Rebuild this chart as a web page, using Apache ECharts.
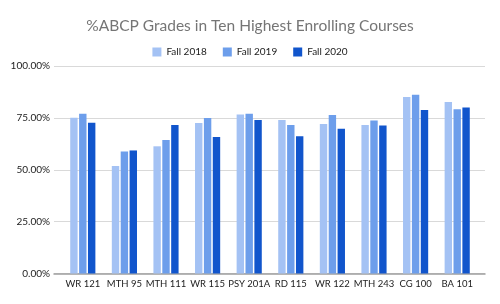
<!DOCTYPE html>
<html>
<head>
<meta charset="utf-8">
<script src="https://cdn.jsdelivr.net/npm/echarts@6/dist/echarts.min.js"></script>
<style>
  html, body { margin: 0; padding: 0; background: #fff; }
  #main { width: 500px; height: 304px; }
</style>
</head>
<body>
<div id="main"></div>
<script>
var myChart = echarts.init(document.getElementById('main'));

// course names and the three terms
var courses = ['WR 121', 'MTH 95', 'MTH 111', 'WR 115', 'PSY 201A', 'RD 115', 'WR 122', 'MTH 243', 'CG 100', 'BA 101'];
var terms = ['Fall 2018', 'Fall 2019', 'Fall 2020'];

// % ABCP grades
var fall2018 = [75.1, 51.8, 61.3, 72.5, 76.6, 74.0, 72.1, 71.6, 85.1, 82.7];
var fall2019 = [77.0, 58.8, 64.3, 75.0, 77.0, 71.6, 76.4, 73.7, 86.2, 79.1];
var fall2020 = [72.7, 59.3, 71.6, 65.8, 74.0, 66.1, 69.7, 71.3, 78.8, 80.0];

var colors = ['#a4c2f4', '#6d9eeb', '#1155cc'];
var values = [fall2018, fall2019, fall2020];

var series = terms.map(function (t, i) {
    return {
        name: t,
        type: 'bar',
        xAxisIndex: 1,
        yAxisIndex: 1,
        data: values[i],
        barWidth: 7.4,
        barGap: '20%',
        itemStyle: { color: colors[i] }
    };
});

var font = 'Lato';

option = {
    animation: false,
    textStyle: { fontFamily: font },
    title: {
        text: '%ABCP Grades in Ten Highest Enrolling Courses',
        left: 'center',
        top: 13,
        textStyle: { color: '#757575', fontSize: 15.5, fontWeight: 'normal', fontFamily: font }
    },
    legend: {
        data: terms,
        top: 42,
        left: 'center',
        itemWidth: 9,
        itemHeight: 9,
        itemGap: 16,
        icon: 'rect',
        textStyle: { color: '#222', fontSize: 10, fontFamily: font }
    },
    // grid 0 carries the gridlines, grid 1 the bars (Sheets pads the categories)
    grid: [
        { left: 54, right: 15, top: 66, bottom: 30.5 },
        { left: 62, right: 22, top: 66, bottom: 30.5 }
    ],
    xAxis: [{
        gridIndex: 0,
        type: 'value',
        min: 0,
        max: 1,
        axisLabel: { show: false },
        axisTick: { show: false },
        splitLine: { show: false },
        axisLine: { lineStyle: { color: '#9e9e9e', width: 1.5 } }
    }, {
        gridIndex: 1,
        type: 'category',
        data: courses,
        axisTick: { show: false },
        axisLine: { show: false },
        axisLabel: { color: '#222', fontSize: 9.5, margin: 5, interval: 0 }
    }],
    yAxis: [{
        gridIndex: 0,
        type: 'value',
        min: 0,
        max: 100,
        interval: 25,
        axisLine: { show: false },
        axisTick: { show: false },
        splitLine: { lineStyle: { color: '#d9d9d9' } },
        axisLabel: {
            color: '#222', fontSize: 10, margin: 4,
            formatter: function (v) { return v.toFixed(2) + '%'; }
        }
    }, {
        gridIndex: 1,
        type: 'value',
        min: 0,
        max: 100,
        interval: 25,
        show: false
    }],
    series: series
};

myChart.setOption(option);
</script>
</body>
</html>
